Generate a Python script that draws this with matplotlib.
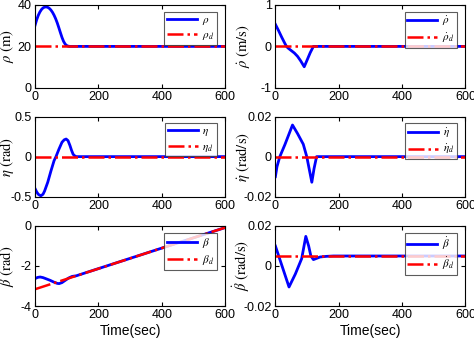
import matplotlib
matplotlib.use('Agg')
import matplotlib.pyplot as plt

plt.rcParams['font.family'] = ['Liberation Sans', 'DejaVu Sans']
plt.rcParams['mathtext.fontset'] = 'stix'
plt.rcParams['axes.unicode_minus'] = False

# rho and rho_d
t_rho = [0, 5, 10, 15, 20, 25, 30, 35, 40, 45, 50, 55, 60, 65, 70, 75, 80, 85, 90, 95, 100, 105, 110, 115, 120, 600]
rho = [30.2, 32.8, 34.9, 36.5, 37.7, 38.5, 38.9, 39.0, 38.8, 38.3, 37.5, 36.4, 35.0, 33.3, 31.3, 29.0, 26.6, 24.3, 22.4, 21.1, 20.4, 20.1, 20.0, 20.0, 20.0, 20.0]
t_rho_d = [0, 600]
rho_d = [20, 20]

# rho_dot
t_rhodot = [0, 10, 20, 30, 35, 40, 50, 60, 70, 80, 91, 100, 110, 120, 600]
rhodot = [0.53, 0.38, 0.22, 0.07, 0.0, -0.04, -0.10, -0.16, -0.24, -0.35, -0.49, -0.33, -0.15, 0.0, 0.0]
t_rhodot_d = [0, 600]
rhodot_d = [0, 0]

# eta
t_eta = [0, 5, 10, 18, 25, 30, 40, 50, 60, 66, 75, 85, 92, 98, 104, 110, 115, 120, 125, 130, 140, 600]
eta = [-0.40, -0.44, -0.47, -0.49, -0.47, -0.43, -0.32, -0.18, -0.05, 0.0, 0.09, 0.18, 0.21, 0.22, 0.20, 0.14, 0.08, 0.03, 0.01, 0.0, 0.0, 0.0]
t_eta_d = [0, 600]
eta_d = [0, 0]

# eta_dot
t_etadot = [0, 5, 14, 30, 54, 70, 88, 99, 115, 122, 130, 600]
etadot = [-0.010, -0.005, 0.0, 0.006, 0.0158, 0.0115, 0.0062, 0.0, -0.0128, -0.006, 0.0, 0.0]
t_etadot_d = [0, 600]
etadot_d = [0, 0]

# beta and beta_d
t_beta = [0, 8, 16, 25, 35, 48, 60, 70, 76, 85, 95, 106, 117, 130, 600]
beta = [-2.63, -2.57, -2.55, -2.58, -2.64, -2.72, -2.81, -2.87, -2.88, -2.83, -2.72, -2.60, -2.52, -2.49, -0.08]
t_beta_d = [0, 600]
beta_d = [-3.16, -0.08]

# beta_dot
t_betadot = [0, 43, 63, 83, 96, 105, 112, 120, 130, 141, 160, 183, 600]
betadot = [0.010, -0.0105, -0.004, 0.0037, 0.0148, 0.010, 0.005, 0.0032, 0.0038, 0.0045, 0.0048, 0.005, 0.005]
t_betadot_d = [0, 600]
betadot_d = [0.005, 0.005]

panels = [
    (t_rho, rho, t_rho_d, rho_d, r'$\rho$', r'$\rho_d$', r'$\rho\ (\mathrm{m})$', [0, 40], [0, 20, 40]),
    (t_rhodot, rhodot, t_rhodot_d, rhodot_d, r'$\dot{\rho}$', r'$\dot{\rho}_d$', r'$\dot{\rho}\ (\mathrm{m/s})$', [-1, 1], [-1, 0, 1]),
    (t_eta, eta, t_eta_d, eta_d, r'$\eta$', r'$\eta_d$', r'$\eta\ (\mathrm{rad})$', [-0.5, 0.5], [-0.5, 0, 0.5]),
    (t_etadot, etadot, t_etadot_d, etadot_d, r'$\dot{\eta}$', r'$\dot{\eta}_d$', r'$\dot{\eta}\ (\mathrm{rad/s})$', [-0.02, 0.02], [-0.02, 0, 0.02]),
    (t_beta, beta, t_beta_d, beta_d, r'$\beta$', r'$\beta_d$', r'$\beta\ (\mathrm{rad})$', [-4, 0], [-4, -2, 0]),
    (t_betadot, betadot, t_betadot_d, betadot_d, r'$\dot{\beta}$', r'$\dot{\beta}_d$', r'$\dot{\beta}\ (\mathrm{rad/s})$', [-0.02, 0.02], [-0.02, 0, 0.02]),
]

ytick_labels = {
    0: ['0', '20', '40'], 1: ['-1', '0', '1'], 2: ['-0.5', '0', '0.5'],
    3: ['-0.02', '0', '0.02'], 4: ['-4', '-2', '0'], 5: ['-0.02', '0', '0.02'],
}

fig = plt.figure(figsize=(4.74, 3.45), dpi=100)
lefts = [0.074, 0.581]
width = 0.401
bottoms = [0.745, 0.43, 0.113]
heights = [0.241, 0.232, 0.232]
label_x = [-0.102, -0.125]

for i, (t, y, td, yd, lab, labd, ylab, ylim, yticks) in enumerate(panels):
    r, c = divmod(i, 2)
    ax = fig.add_axes([lefts[c], bottoms[r], width, heights[r]])
    ax.plot(t, y, color='#0000ff', lw=2.0, label=lab)
    ax.plot(td, yd, color='#ff0000', lw=1.8, ls='-.', label=labd)
    ax.set_xlim(0, 600)
    ax.set_ylim(ylim)
    ax.set_xticks([0, 200, 400, 600])
    ax.set_yticks(yticks)
    ax.set_yticklabels(ytick_labels[i])
    ax.tick_params(direction='in', top=True, right=True, labelsize=9, length=3, pad=2.5)
    ax.set_ylabel(ylab, fontsize=10.5)
    ax.yaxis.set_label_coords(label_x[c], 0.5)
    leg = ax.legend(loc='upper right', fontsize=8, frameon=True, fancybox=False,
                    edgecolor='#333333', handlelength=2.7, borderpad=0.25,
                    labelspacing=0.3, handletextpad=0.4, borderaxespad=0,
                    bbox_to_anchor=(0.955, 0.915))
    leg.get_frame().set_linewidth(0.8)
    if r == 2:
        ax.set_xlabel('Time(sec)', fontsize=10, labelpad=2)

fig.savefig('out.png', dpi=100)
